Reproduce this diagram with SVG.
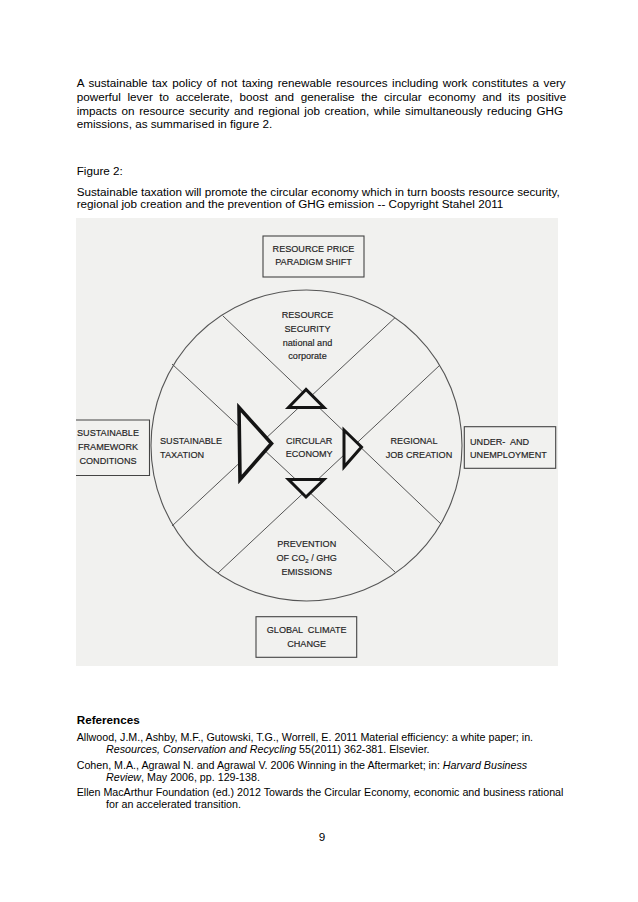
<svg xmlns="http://www.w3.org/2000/svg" width="638" height="902" viewBox="0 0 638 902">
<style>
.body{font-family:"Liberation Sans",Arial,sans-serif;font-size:11.7px;fill:#000}
.ref{font-family:"Liberation Sans",Arial,sans-serif;font-size:10.7px;fill:#000}
.dg{font-family:"Liberation Sans",Arial,sans-serif;font-size:9.1px;fill:#222;stroke:#222;stroke-width:0.15}
.mid{text-anchor:middle}
.box{fill:none;stroke:#444;stroke-width:1.1}
.chord{fill:none;stroke:#555;stroke-width:1}
.tri{fill:#f1f1ef;stroke:#141414;stroke-width:3;stroke-linejoin:miter}
</style>
<rect width="638" height="902" fill="#fff"/>

<g id="paragraph" class="body">
<text x="76.7" y="87.3" word-spacing="1.33">A sustainable tax policy of not taxing renewable resources including work constitutes a very</text>
<text x="76.7" y="101" word-spacing="3.33">powerful lever to accelerate, boost and generalise the circular economy and its positive</text>
<text x="76.7" y="114.7" word-spacing="1.34">impacts on resource security and regional job creation, while simultaneously reducing GHG</text>
<text x="76.7" y="128.3">emissions, as summarised in figure 2.</text>
</g>

<g id="caption" class="body">
<text x="76.7" y="175">Figure 2:</text>
<text x="76.7" y="195.5">Sustainable taxation will promote the circular economy which in turn boosts resource security,</text>
<text x="76.7" y="208">regional job creation and the prevention of GHG emission -- Copyright Stahel 2011</text>
</g>

<g id="figure">
<rect id="figure-bg" x="76" y="218" width="482" height="448" fill="#f1f1ef"/>
<circle id="circle" cx="306.5" cy="445.5" r="155.5" fill="none" stroke="#555" stroke-width="1.1"/>

<g id="connectors">
<line class="chord" x1="222.7" y1="315.7" x2="441" y2="524"/>
<line class="chord" x1="395" y1="317.7" x2="172" y2="526"/>
<line class="chord" x1="172" y1="364" x2="395" y2="572"/>
<line class="chord" x1="440" y1="365" x2="218" y2="573"/>
<polygon id="arrow-up" class="tri" points="306,389.5 288.5,407.5 324,407.5"/>
<polygon id="arrow-left-big" class="tri" style="stroke-width:3.6" points="239,407.5 271.5,443.5 240,479.5"/>
<polygon id="arrow-right" class="tri" points="344,430 361.5,447 344,467"/>
<polygon id="arrow-down" class="tri" points="288.5,479.5 324,479.5 306,497"/>
</g>

<g id="node-resource-price">
<rect class="box" x="263" y="236" width="101" height="41"/>
<text class="dg mid" x="313.5" y="251.5">RESOURCE PRICE</text>
<text class="dg mid" x="313.5" y="265">PARADIGM SHIFT</text>
</g>

<g id="node-resource-security">
<text class="dg mid" x="307.5" y="317.7">RESOURCE</text>
<text class="dg mid" x="307.5" y="331.7">SECURITY</text>
<text class="dg mid" x="307.5" y="345.7">national and</text>
<text class="dg mid" x="307.5" y="359">corporate</text>
</g>

<g id="node-framework">
<path class="box" d="M76,420 H149.5 V475.5 H76"/>
<text class="dg mid" x="108" y="436">SUSTAINABLE</text>
<text class="dg mid" x="108" y="450">FRAMEWORK</text>
<text class="dg mid" x="108" y="464.3">CONDITIONS</text>
</g>

<g id="node-taxation">
<text class="dg" x="160" y="444.3">SUSTAINABLE</text>
<text class="dg" x="160" y="457.6">TAXATION</text>
</g>

<g id="node-circular">
<text class="dg mid" x="309.2" y="444">CIRCULAR</text>
<text class="dg mid" x="309.2" y="456.7">ECONOMY</text>
</g>

<g id="node-regional">
<text class="dg mid" x="414" y="444.3">REGIONAL</text>
<text class="dg mid" x="419" y="457.6">JOB CREATION</text>
</g>

<g id="node-unemployment">
<rect class="box" x="464.3" y="426.7" width="91.4" height="41.6"/>
<text class="dg" x="470" y="444.5" xml:space="preserve">UNDER-  AND</text>
<text class="dg" x="470" y="457.5">UNEMPLOYMENT</text>
</g>

<g id="node-prevention">
<text class="dg mid" x="306.7" y="547.3">PREVENTION</text>
<text class="dg mid" x="306.7" y="561.4">OF CO<tspan font-size="6" dy="1.5">2</tspan><tspan dy="-1.5"> / GHG</tspan></text>
<text class="dg mid" x="306.7" y="575.3">EMISSIONS</text>
</g>

<g id="node-climate">
<rect class="box" x="256" y="616.7" width="100.7" height="40.6"/>
<text class="dg mid" x="306.7" y="632.5" xml:space="preserve">GLOBAL  CLIMATE</text>
<text class="dg mid" x="306.7" y="646.5">CHANGE</text>
</g>
</g>

<g id="references">
<text x="76.7" y="724" style="font-family:'Liberation Sans',Arial,sans-serif;font-size:11.7px;font-weight:bold">References</text>
<text class="ref" x="76.7" y="741">Allwood, J.M., Ashby, M.F., Gutowski, T.G., Worrell, E. 2011 Material efficiency: a white paper; in.</text>
<text class="ref" x="106" y="753"><tspan font-style="italic">Resources, Conservation and Recycling</tspan> 55(2011) 362-381. Elsevier.</text>
<text class="ref" x="76.7" y="768.5">Cohen, M.A., Agrawal N. and Agrawal V. 2006 Winning in the Aftermarket; in: <tspan font-style="italic">Harvard Business</tspan></text>
<text class="ref" x="106" y="780.5"><tspan font-style="italic">Review</tspan>, May 2006, pp. 129-138.</text>
<text class="ref" x="76.7" y="796">Ellen MacArthur Foundation (ed.) 2012 Towards the Circular Economy, economic and business rational</text>
<text class="ref" x="106" y="808">for an accelerated transition.</text>
</g>

<text id="page-number" class="body" x="322" y="840.5" text-anchor="middle">9</text>
</svg>
